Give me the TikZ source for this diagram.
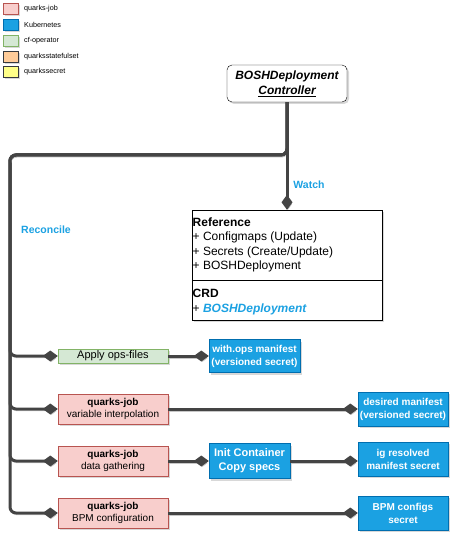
\documentclass[tikz,border=0pt]{standalone}
\usepackage{fontspec}
\setmainfont{Liberation Sans}
\usetikzlibrary{arrows.meta,shadows}
\definecolor{jobfill}{HTML}{F8CECC}
\definecolor{jobline}{HTML}{B85450}
\definecolor{kubefill}{HTML}{1BA1E2}
\definecolor{kubeline}{HTML}{006EAF}
\definecolor{cffill}{HTML}{D5E8D4}
\definecolor{cfline}{HTML}{82B366}
\definecolor{stsfill}{HTML}{FFCC99}
\definecolor{secfill}{HTML}{FFFF88}
\definecolor{legline}{HTML}{36393D}
\definecolor{wire}{HTML}{444444}
\definecolor{tag}{HTML}{1BA1E2}
\tikzset{shade box/.style = {drop shadow={shadow xshift=2pt, shadow yshift=-2pt, fill=black!30}}}
\tikzset{box/.style = {draw, shade box, align=center, inner sep=1pt}}
\tikzset{job/.style = {box, fill=jobfill, draw=jobline, minimum width=110pt, minimum height=30pt, font=\fontsize{10}{12}\selectfont}}
\tikzset{kube/.style = {box, fill=kubefill, draw=kubeline, text=white, font=\bfseries\fontsize{10}{13}\selectfont}}
\tikzset{legbox/.style = {draw, shade box, minimum width=15pt, minimum height=11pt, inner sep=0}}
\tikzset{legtext/.style = {font=\fontsize{7.2}{9}\selectfont, inner sep=0, anchor=west}}
\tikzset{link/.style = {draw=wire, line width=3pt, rounded corners=6pt,
        -{Diamond[length=15pt,width=11pt]},
        preaction={draw=black!22, transform canvas={shift={(1pt,-2pt)}}}}}
\tikzset{tagtext/.style = {text=tag, font=\bfseries\fontsize{10.5}{12}\selectfont}}

\begin{document}
\begin{tikzpicture}[x=1pt, y=-1pt]
	\useasboundingbox (0,0) rectangle (451,534);
	% legend
	\foreach \fillc/\linec/\name [count=\i from 0] in
	  {jobfill/jobline/quarks-job, kubefill/kubeline/Kubernetes, cffill/cfline/cf-operator,
	   stsfill/legline/quarksstatefulset, secfill/legline/quarkssecret} {
		\node [legbox, fill=\fillc, draw=\linec] (leg\i) at (10.5, 9+15.75*\i) {};
		\node [legtext] (legtxt\i) at (24, 9+15.75*\i) {\name};
	}

	% controller and watched resources
	\node [box, rounded corners=5pt, fill=white, minimum width=120pt, minimum height=37pt,
	       font=\bfseries\itshape\fontsize{12}{15}\selectfont] (ctrl) at (287,83.5)
	      {BOSHDeployment\\\underline{Controller}};
	\node [box, fill=white, minimum width=190pt, minimum height=110pt] (ref) at (287,265) {};
	\node [anchor=north west, align=left, inner sep=0, font=\fontsize{12}{14.4}\selectfont] (refitems) at (192.5,217.5)
	      {\textbf{Reference}\\+ Configmaps (Update)\\+ Secrets (Create/Update)\\+ BOSHDeployment};
	\draw (ref.west |- 0,280) -- (ref.east |- 0,280);
	\node [anchor=base west, inner sep=0, font=\bfseries\fontsize{12}{14}\selectfont] (crd) at (192.5,297.6) {CRD};
	\node [anchor=base west, inner sep=0, font=\fontsize{12}{14}\selectfont] (crdkind) at (192.5,312)
	      {+ \textcolor{tag}{\textbf{\textit{BOSHDeployment}}}};

	\coordinate (split) at (287,155);
	\coordinate (bend) at (10,155);
	\node [tagtext] (watch) at (309,185) {Watch};
	\node [tagtext] (reconcile) at (46,230) {Reconcile};

	% reconcile steps
	\node [box, fill=cffill, draw=cfline, minimum width=110pt, minimum height=14pt,
	       font=\fontsize{11}{13}\selectfont] (ops) at (113,356) {Apply ops-files};
	\node [kube, minimum width=91pt, minimum height=33pt] (withops) at (254.5,356) {with.ops manifest\\(versioned secret)};
	\node [job] (interp) at (113,409) {\textbf{quarks-job}\\variable interpolation};
	\node [kube, minimum width=90pt, minimum height=34pt] (desired) at (403,409) {desired manifest\\(versioned secret)};
	\node [job] (gather) at (113,461) {\textbf{quarks-job}\\data gathering};
	\node [kube, minimum width=81pt, minimum height=35pt, font=\bfseries\fontsize{11}{14}\selectfont] (init) at (249.5,461)
	      {Init Container\\Copy specs};
	\node [kube, minimum width=90pt, minimum height=34pt] (resolved) at (403,459) {ig resolved\\manifest secret};
	\node [job] (bpm) at (113,513) {\textbf{quarks-job}\\BPM configuration};
	\node [kube, minimum width=90pt, minimum height=34pt] (bpmsecret) at (403,513) {BPM configs\\secret};

	% connectors
	\foreach \step in {bpm,gather,interp,ops}
		\draw [link] (ctrl.south) -- (split) -- (bend) |- (\step.west);
	\draw [link] (ctrl.south) -- (ref.north);
	\draw [link] (ops) -- (withops);
	\draw [link] (interp) -- (desired);
	\draw [link] (gather) -- (init);
	\draw [link] (init.east) -- (resolved.west |- init.east);
	\draw [link] (bpm) -- (bpmsecret);
\end{tikzpicture}
\end{document}
